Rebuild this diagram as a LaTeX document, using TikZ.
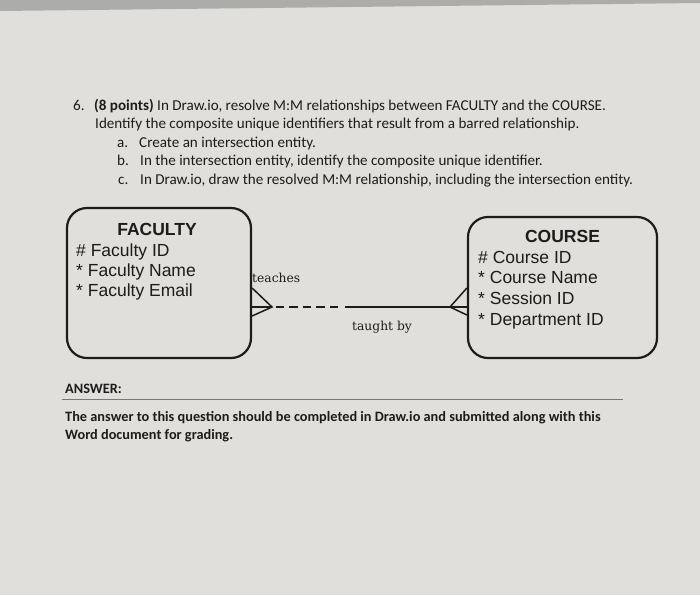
\documentclass[tikz,border=0pt]{standalone}
\usepackage{fontspec}
\setmainfont{Carlito}
\newfontfamily\arialfont{Liberation Sans}
\newfontfamily\relfont{DejaVu Serif}
\usetikzlibrary{calc}
\definecolor{paper}{RGB}{224,223,219}
\definecolor{edge}{RGB}{172,172,170}
\definecolor{ink}{RGB}{28,28,28}
\definecolor{rulegray}{RGB}{120,120,118}

\begin{document}
\begin{tikzpicture}[x=1pt,y=-1pt,
  qtext/.style={anchor=base west,inner sep=0pt,text=ink,font=\fontsize{15.1}{17}\selectfont},
  atext/.style={anchor=base west,inner sep=0pt,text=ink,font=\bfseries\fontsize{14.3}{16}\selectfont},
  entity/.style={draw=ink,line width=2.2pt,rounded corners=20pt},
  etitle/.style={anchor=base,inner sep=0pt,text=ink,font=\arialfont\bfseries\fontsize{17.5}{20}\selectfont},
  attr/.style={anchor=base west,inner sep=0pt,text=ink,font=\arialfont\fontsize{17.5}{20}\selectfont},
  rel/.style={draw=ink,line width=1.5pt},
  rellabel/.style={anchor=base west,inner sep=0pt,text=ink,font=\relfont\fontsize{12.3}{14}\selectfont}]
% page
\fill[paper] (0,0) rectangle (700,595);
\fill[edge] (0,0)--(700,0)--(700,3)--(0,11)--cycle;

% question
\node[qtext] (qnum) at (73,110.5) {6.};
\node[qtext] (qline1) at (94,110.5) {\textbf{(8 points)} In Draw.io, resolve M:M relationships between FACULTY and the COURSE.};
\node[qtext] (qline2) at (95,128) {Identify the composite unique identifiers that result from a barred relationship.};
\node[qtext] (qa) at (117,147.5) {a.};
\node[qtext] (qatext) at (139,147.5) {Create an intersection entity.};
\node[qtext] (qb) at (117,165.5) {b.};
\node[qtext] (qbtext) at (140,165.5) {In the intersection entity, identify the composite unique identifier.};
\node[qtext] (qc) at (118,184.5) {c.};
\node[qtext] (qctext) at (140,184.5) {In Draw.io, draw the resolved M:M relationship, including the intersection entity.};

% entities
\node[entity,minimum width=184pt,minimum height=150pt] (faculty) at (159,283) {};
\node[etitle] (factitle) at (157,235) {FACULTY};
\foreach \t [count=\i] in {\# Faculty ID,* Faculty Name,* Faculty Email}
  \node[attr] (facattr\i) at (76,{256+20.3*(\i-1)}) {\t};

\node[entity,minimum width=189pt,minimum height=141pt] (course) at (562.5,287.5) {};
\node[etitle] (crstitle) at (562.5,242.7) {COURSE};
\foreach \t [count=\i] in {\# Course ID,* Course Name,* Session ID,* Department ID}
  \node[attr] (crsattr\i) at (478,{263+20.9*(\i-1)}) {\t};

% relationship
\coordinate (ftip) at (272,307);
\coordinate (ctip) at (450,307);
\coordinate (dashend) at (338,307);
\coordinate (solidstart) at (345,307);
\draw[rel] (faculty.east |- ftip) -- (ftip);
\draw[rel] ($(faculty.east |- ftip)+(0,-19)$) -- (ftip) -- ($(faculty.east |- ftip)+(0,9)$);
\draw[rel,dash pattern=on 8.4pt off 5pt] ($(ftip)+(4,0)$) -- (dashend);
\draw[rel] (solidstart) -- (ctip);
\draw[rel] (ctip) -- (course.west |- ctip);
\draw[rel] ($(course.west |- ctip)+(0,-19)$) -- (ctip) -- ($(course.west |- ctip)+(0,8)$);
\node[rellabel] (teaches) at (252,282.7) {teaches};
\node[rellabel] (taughtby) at (352,330) {taught by};

% answer
\node[atext] (anslabel) at (65,393) {ANSWER:};
\draw[rulegray,line width=1pt] (62,399.5) -- (623,399.5);
\node[atext] (ansline1) at (65,421.7) {The answer to this question should be completed in Draw.io and submitted along with this};
\node[atext] (ansline2) at (65,439) {Word document for grading.};
\end{tikzpicture}
\end{document}
